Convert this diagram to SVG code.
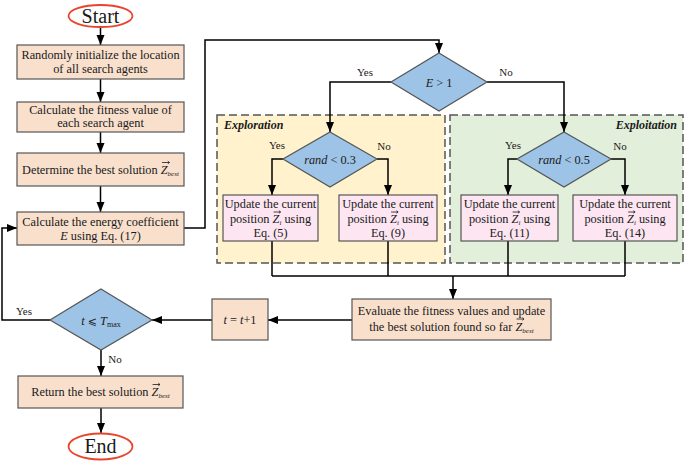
<svg xmlns="http://www.w3.org/2000/svg" width="685" height="461" viewBox="0 0 685 461">
<defs>
<marker id="ah" markerUnits="userSpaceOnUse" markerWidth="10" markerHeight="10" viewBox="0 0 10 10" refX="10" refY="5" orient="auto">
<path d="M0,1 L10,5 L0,9 Z" fill="#000"/>
</marker>
</defs>
<style>
text{font-family:"Liberation Serif","Times New Roman",serif;font-size:12.3px;fill:#1a1a1a}
.t{text-anchor:middle}
.big{font-size:20px}
.lbl{font-size:11px;text-anchor:middle}
.it{font-style:italic}
.sub{font-size:7px;font-style:italic}
.box{fill:#f9e0cd;stroke:#555;stroke-width:1.2}
.pk{fill:#fde6f2;stroke:#555;stroke-width:1.2}
.dia{fill:#9dc3e6;stroke:#555;stroke-width:1.2}
.ov{fill:#fff;stroke:#e8452c;stroke-width:1.8}
.grp{stroke:#555;stroke-width:1.5;stroke-dasharray:8,4}
.c{fill:none;stroke:#000;stroke-width:1.5}
.ca{fill:none;stroke:#000;stroke-width:1.5;marker-end:url(#ah)}
.vec{fill:none;stroke:#1a1a1a;stroke-width:0.8}
</style>

<g id="exploration">
<rect class="grp" x="217" y="115" width="228" height="148" fill="#fff2cc"/>
<text x="224" y="129" style="font-weight:bold;font-style:italic;font-size:12px">Exploration</text>
</g>
<g id="exploitation">
<rect class="grp" x="450" y="115" width="233" height="148" fill="#e2efda"/>
<text x="677" y="129" style="font-weight:bold;font-style:italic;font-size:12px;text-anchor:end">Exploitation</text>
</g>

<g id="connectors">
<path class="ca" d="M100.5,27 V45"/>
<path class="ca" d="M100.5,79 V102"/>
<path class="ca" d="M100.5,132 V153"/>
<path class="ca" d="M100.5,186 V212"/>
<path class="ca" d="M184,228 H205 V40 H439 V53"/>
<path class="ca" d="M391,82 H330 V132"/>
<path class="ca" d="M487,82 H564 V132"/>
<path class="ca" d="M283,159 H272 V195"/>
<path class="ca" d="M377,159 H388 V195"/>
<path class="ca" d="M517,159 H508 V195"/>
<path class="ca" d="M611,159 H625 V195"/>
<path class="c" d="M272,241 V276 M388,241 V276 M508,241 V276 M625,241 V276 M272,276 H625"/>
<path class="ca" d="M453,276 V299"/>
<path class="ca" d="M352,320 H268"/>
<path class="ca" d="M212,320 H152"/>
<path class="ca" d="M50,320 H2 V228 H17"/>
<path class="ca" d="M101,350 V376"/>
<path class="ca" d="M101,408 V433"/>
<text class="lbl" x="365" y="76">Yes</text>
<text class="lbl" x="506" y="76">No</text>
<text class="lbl" x="277" y="149">Yes</text>
<text class="lbl" x="384" y="150">No</text>
<text class="lbl" x="513" y="149">Yes</text>
<text class="lbl" x="620" y="150">No</text>
<text class="lbl" x="24" y="315">Yes</text>
<text class="lbl" x="115" y="363">No</text>
</g>

<g id="start">
<ellipse class="ov" cx="100.5" cy="16" rx="32" ry="11"/>
<text class="t big" x="100.5" y="22.5">Start</text>
</g>
<g id="init">
<rect class="box" x="17" y="45" width="167" height="34"/>
<text class="t" x="100.5" y="58.5">Randomly initialize the location</text>
<text class="t" x="100.5" y="73">of all search agents</text>
</g>
<g id="fitness">
<rect class="box" x="17" y="102" width="167" height="30"/>
<text class="t" x="100.5" y="113.5">Calculate the fitness value of</text>
<text class="t" x="100.5" y="127">each search agent</text>
</g>
<g id="best">
<rect class="box" x="17" y="153" width="167" height="33"/>
<text x="22.1" y="174">Determine the best solution <tspan class="it">Z</tspan><tspan class="sub" dy="2">best</tspan></text>
<path class="vec" d="M162,162.5 H169.5 M167.8,161.2 L169.5,162.5 L167.8,163.8"/>
</g>
<g id="energy">
<rect class="box" x="17" y="212" width="167" height="33"/>
<text class="t" x="100.5" y="225.5">Calculate the energy coefficient</text>
<text class="t" x="100.5" y="240"><tspan class="it">E</tspan> using Eq. (17)</text>
</g>
<g id="e_gt_1">
<path class="dia" d="M439,53 L487,82 L439,111 L391,82 Z"/>
<text class="t" x="439" y="86.5"><tspan class="it">E</tspan> &gt; 1</text>
</g>
<g id="rand03">
<path class="dia" d="M330,132 L377,159 L330,187 L283,159 Z"/>
<text class="t" x="330" y="163.5"><tspan class="it">rand</tspan> &lt; 0.3</text>
</g>
<g id="rand05">
<path class="dia" d="M564,132 L611,159 L564,187 L517,159 Z"/>
<text class="t" x="564" y="163.5"><tspan class="it">rand</tspan> &lt; 0.5</text>
</g>
<g id="eq5">
<rect class="pk" x="223" y="195" width="95" height="46"/>
<text class="t" x="270.5" y="208">Update the current</text>
<text x="229.9" y="223">position <tspan class="it">Z</tspan><tspan class="sub" dy="2">i</tspan><tspan dy="-2"> using</tspan></text>
<path class="vec" d="M273.6,212 H280.6 M278.9,210.7 L280.6,212 L278.9,213.3"/>
<text class="t" x="270.5" y="237">Eq. (5)</text>
</g>
<g id="eq9">
<rect class="pk" x="339" y="195" width="98" height="46"/>
<text class="t" x="388" y="208">Update the current</text>
<text x="347.4" y="223">position <tspan class="it">Z</tspan><tspan class="sub" dy="2">i</tspan><tspan dy="-2"> using</tspan></text>
<path class="vec" d="M391.1,212 H398.1 M396.4,210.7 L398.1,212 L396.4,213.3"/>
<text class="t" x="388" y="237">Eq. (9)</text>
</g>
<g id="eq11">
<rect class="pk" x="461" y="195" width="97" height="46"/>
<text class="t" x="509.5" y="208">Update the current</text>
<text x="468.9" y="223">position <tspan class="it">Z</tspan><tspan class="sub" dy="2">i</tspan><tspan dy="-2"> using</tspan></text>
<path class="vec" d="M512.6,212 H519.6 M517.9,210.7 L519.6,212 L517.9,213.3"/>
<text class="t" x="509.5" y="237">Eq. (11)</text>
</g>
<g id="eq14">
<rect class="pk" x="573" y="195" width="104" height="46"/>
<text class="t" x="625" y="208">Update the current</text>
<text x="584.4" y="223">position <tspan class="it">Z</tspan><tspan class="sub" dy="2">i</tspan><tspan dy="-2"> using</tspan></text>
<path class="vec" d="M628.1,212 H635.1 M633.4,210.7 L635.1,212 L633.4,213.3"/>
<text class="t" x="625" y="237">Eq. (14)</text>
</g>
<g id="evaluate">
<rect class="box" x="352" y="299" width="199" height="41"/>
<text class="t" x="451.5" y="315">Evaluate the fitness values and update</text>
<text x="369.3" y="330.5">the best solution found so far <tspan class="it">Z</tspan><tspan class="sub" dy="2">best</tspan></text>
<path class="vec" d="M516.5,319 H524 M522.3,317.7 L524,319 L522.3,320.3"/>
</g>
<g id="increment">
<rect class="box" x="212" y="299" width="56" height="41"/>
<text class="t" x="240" y="324"><tspan class="it">t</tspan> = <tspan class="it">t</tspan>+1</text>
</g>
<g id="t_le_tmax">
<path class="dia" d="M101,289 L152,320 L101,350 L50,320 Z"/>
<text class="t" x="101" y="324.5"><tspan class="it">t</tspan> <tspan style="font-family:'DejaVu Sans',sans-serif;font-size:11px">⩽</tspan> <tspan class="it">T</tspan><tspan style="font-size:8px" dy="2">max</tspan></text>
</g>
<g id="return">
<rect class="box" x="18" y="376" width="165" height="32"/>
<text x="31.3" y="396">Return the best solution <tspan class="it">Z</tspan><tspan class="sub" dy="2">best</tspan></text>
<path class="vec" d="M152.6,384.5 H160 M158.3,383.2 L160,384.5 L158.3,385.8"/>
</g>
<g id="end">
<ellipse class="ov" cx="100.5" cy="446.5" rx="32" ry="13"/>
<text class="t big" x="100.5" y="453">End</text>
</g>
</svg>
